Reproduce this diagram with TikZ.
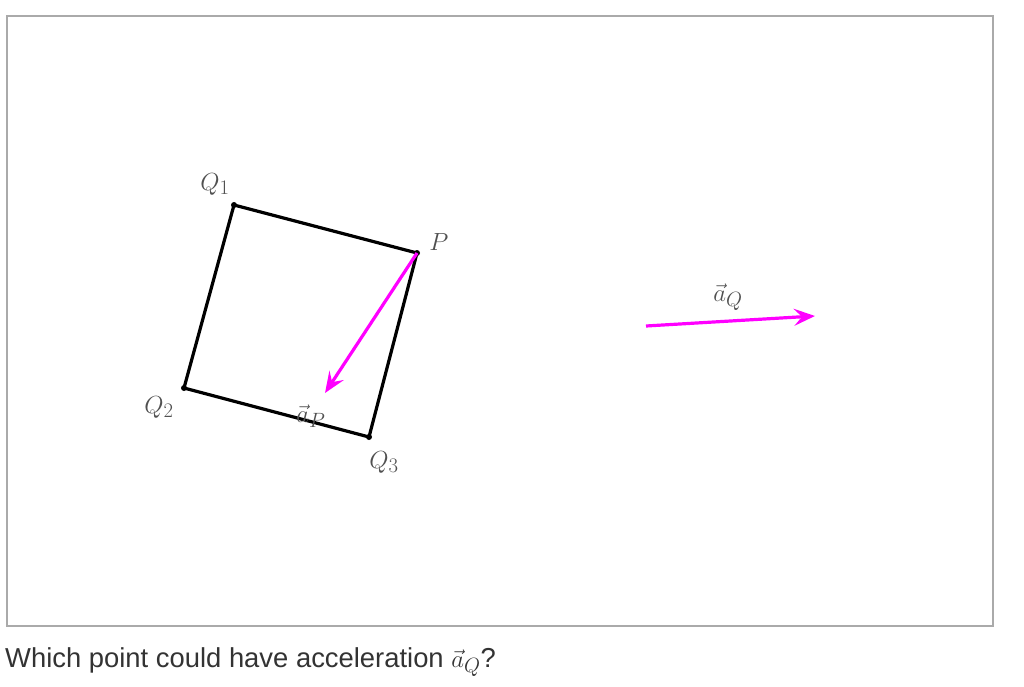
\documentclass[tikz,border=0pt]{standalone}
\usepackage{fontspec}
\newfontfamily\arialfont{Liberation Sans}
\usetikzlibrary{arrows.meta}
\definecolor{labgrey}{RGB}{80,80,80}
\definecolor{framegrey}{RGB}{170,170,170}
\definecolor{vecmag}{RGB}{255,0,255}
\begin{document}
\begin{tikzpicture}[x=1bp,y=-1bp,
  edge/.style={line width=3.2bp,black,line cap=round},
  vec/.style={line width=3.2bp,vecmag,-{Stealth[length=21bp,width=17bp,inset=8bp]}},
  lab/.style={text=labgrey,font=\fontsize{29}{33}\selectfont,inner sep=0pt},
  dot/.style={circle,fill=black,inner sep=0pt,minimum size=6bp}]
\useasboundingbox (0,0) rectangle (1024,687);
\draw[framegrey,line width=1.5bp] (7,16) rectangle (993,626);
\node[dot] (Q1) at (234,205) {};
\node[dot] (P) at (417,253) {};
\node[dot] (Q3) at (369,437) {};
\node[dot] (Q2) at (184,388) {};
\draw[edge] (Q1.center) -- (P.center) -- (Q3.center) -- (Q2.center) -- cycle;
\coordinate (aPend) at (325,393);
\coordinate (aQstart) at (646,326);
\coordinate (aQend) at (815,316);
\draw[vec] (P.center) -- (aPend);
\draw[vec] (aQstart) -- (aQend);
\node[lab] (lQ1) at (215,184) {$Q_1$};
\node[lab] (lP) at (439,242) {$P$};
\node[lab] (lQ2) at (159,407) {$Q_2$};
\node[lab] (lQ3) at (384,462) {$Q_3$};
\node[lab] (laP) at (311,416) {$\vec a_P$};
\node[lab] (laQ) at (728,297) {$\vec a_Q$};
\node[anchor=base west,inner sep=0pt,text=black!80,font=\arialfont\fontsize{27.5}{32}\selectfont] (q) at (5,667) {Which point could have acceleration $\vec a_Q$?};
\end{tikzpicture}
\end{document}
